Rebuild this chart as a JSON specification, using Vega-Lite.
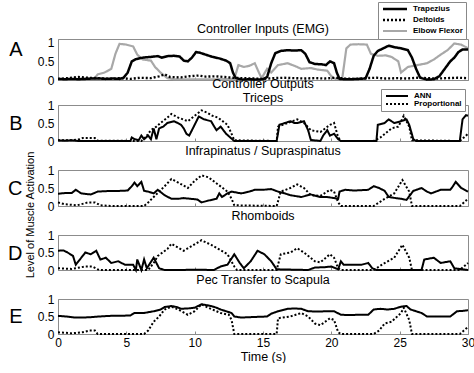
{
"$schema": "https://vega.github.io/schema/vega-lite/v6.json",
"padding": {"left": 7, "top": 1, "right": 0, "bottom": 0},
"bounds": "flush",
"spacing": 25,
"resolve": {"scale": {"color": "independent", "strokeDash": "independent", "strokeWidth": "independent"}},
"title": {"text": "Level of Muscle Activation", "orient": "left", "anchor": "middle", "offset": -29, "fontSize": 11, "dx": -33},
"datasets": {
"A": [
{"t":0,"v":0.02,"s":"Elbow Flexor"},{"t":1,"v":0.02,"s":"Elbow Flexor"},{"t":2,"v":0.03,"s":"Elbow Flexor"},{"t":2.7,"v":0.05,"s":"Elbow Flexor"},{"t":2.9,"v":0.15,"s":"Elbow Flexor"},{"t":3.4,"v":0.2,"s":"Elbow Flexor"},{"t":3.9,"v":0.3,"s":"Elbow Flexor"},{"t":4.2,"v":0.7,"s":"Elbow Flexor"},{"t":4.5,"v":0.97,"s":"Elbow Flexor"},{"t":5,"v":0.95,"s":"Elbow Flexor"},{"t":5.5,"v":0.9,"s":"Elbow Flexor"},{"t":5.8,"v":0.68,"s":"Elbow Flexor"},{"t":6.2,"v":0.55,"s":"Elbow Flexor"},{"t":6.8,"v":0.52,"s":"Elbow Flexor"},{"t":7.1,"v":0.35,"s":"Elbow Flexor"},{"t":7.5,"v":0.2,"s":"Elbow Flexor"},{"t":8,"v":0.05,"s":"Elbow Flexor"},{"t":8.5,"v":0.02,"s":"Elbow Flexor"},{"t":10,"v":0.02,"s":"Elbow Flexor"},{"t":11.5,"v":0.02,"s":"Elbow Flexor"},{"t":12.9,"v":0.03,"s":"Elbow Flexor"},{"t":13.2,"v":0.4,"s":"Elbow Flexor"},{"t":13.6,"v":0.35,"s":"Elbow Flexor"},{"t":14,"v":0.38,"s":"Elbow Flexor"},{"t":14.4,"v":0.45,"s":"Elbow Flexor"},{"t":14.7,"v":0.2,"s":"Elbow Flexor"},{"t":14.9,"v":0.05,"s":"Elbow Flexor"},{"t":15.3,"v":0.3,"s":"Elbow Flexor"},{"t":15.6,"v":0.2,"s":"Elbow Flexor"},{"t":16.1,"v":0.4,"s":"Elbow Flexor"},{"t":16.8,"v":0.45,"s":"Elbow Flexor"},{"t":17.3,"v":0.38,"s":"Elbow Flexor"},{"t":17.8,"v":0.3,"s":"Elbow Flexor"},{"t":18.5,"v":0.32,"s":"Elbow Flexor"},{"t":19,"v":0.28,"s":"Elbow Flexor"},{"t":19.7,"v":0.25,"s":"Elbow Flexor"},{"t":20,"v":0.1,"s":"Elbow Flexor"},{"t":20.3,"v":0.03,"s":"Elbow Flexor"},{"t":20.8,"v":0.05,"s":"Elbow Flexor"},{"t":21.1,"v":0.85,"s":"Elbow Flexor"},{"t":21.4,"v":0.95,"s":"Elbow Flexor"},{"t":22,"v":0.96,"s":"Elbow Flexor"},{"t":22.6,"v":0.95,"s":"Elbow Flexor"},{"t":22.9,"v":0.7,"s":"Elbow Flexor"},{"t":23.4,"v":0.65,"s":"Elbow Flexor"},{"t":24,"v":0.66,"s":"Elbow Flexor"},{"t":24.4,"v":0.62,"s":"Elbow Flexor"},{"t":24.9,"v":0.5,"s":"Elbow Flexor"},{"t":25.1,"v":0.2,"s":"Elbow Flexor"},{"t":25.6,"v":0.35,"s":"Elbow Flexor"},{"t":26.3,"v":0.4,"s":"Elbow Flexor"},{"t":27,"v":0.45,"s":"Elbow Flexor"},{"t":27.5,"v":0.55,"s":"Elbow Flexor"},{"t":28,"v":0.68,"s":"Elbow Flexor"},{"t":28.5,"v":0.8,"s":"Elbow Flexor"},{"t":29,"v":0.98,"s":"Elbow Flexor"},{"t":29.5,"v":0.95,"s":"Elbow Flexor"},{"t":30,"v":0.85,"s":"Elbow Flexor"},
{"t":0,"v":0.03,"s":"Deltoids"},{"t":0.7,"v":0.05,"s":"Deltoids"},{"t":1.5,"v":0.08,"s":"Deltoids"},{"t":2.2,"v":0.06,"s":"Deltoids"},{"t":3,"v":0.05,"s":"Deltoids"},{"t":3.8,"v":0.03,"s":"Deltoids"},{"t":4.5,"v":0.05,"s":"Deltoids"},{"t":5.3,"v":0.03,"s":"Deltoids"},{"t":6,"v":0.06,"s":"Deltoids"},{"t":6.8,"v":0.05,"s":"Deltoids"},{"t":7.4,"v":0.1,"s":"Deltoids"},{"t":7.8,"v":0.15,"s":"Deltoids"},{"t":8.2,"v":0.08,"s":"Deltoids"},{"t":9,"v":0.07,"s":"Deltoids"},{"t":9.6,"v":0.1,"s":"Deltoids"},{"t":10.3,"v":0.12,"s":"Deltoids"},{"t":10.8,"v":0.09,"s":"Deltoids"},{"t":11.5,"v":0.1,"s":"Deltoids"},{"t":12.2,"v":0.08,"s":"Deltoids"},{"t":12.8,"v":0.06,"s":"Deltoids"},{"t":13.5,"v":0.05,"s":"Deltoids"},{"t":14.3,"v":0.04,"s":"Deltoids"},{"t":15,"v":0.03,"s":"Deltoids"},{"t":15.8,"v":0.05,"s":"Deltoids"},{"t":16.5,"v":0.06,"s":"Deltoids"},{"t":17.3,"v":0.05,"s":"Deltoids"},{"t":18,"v":0.04,"s":"Deltoids"},{"t":18.8,"v":0.05,"s":"Deltoids"},{"t":19.5,"v":0.04,"s":"Deltoids"},{"t":20.3,"v":0.06,"s":"Deltoids"},{"t":21,"v":0.04,"s":"Deltoids"},{"t":21.8,"v":0.03,"s":"Deltoids"},{"t":22.5,"v":0.05,"s":"Deltoids"},{"t":23.3,"v":0.06,"s":"Deltoids"},{"t":24,"v":0.04,"s":"Deltoids"},{"t":24.8,"v":0.05,"s":"Deltoids"},{"t":25.5,"v":0.04,"s":"Deltoids"},{"t":26.3,"v":0.06,"s":"Deltoids"},{"t":27,"v":0.05,"s":"Deltoids"},{"t":27.8,"v":0.04,"s":"Deltoids"},{"t":28.5,"v":0.05,"s":"Deltoids"},{"t":29.2,"v":0.06,"s":"Deltoids"},{"t":30,"v":0.05,"s":"Deltoids"},
{"t":0,"v":0.03,"s":"Trapezius"},{"t":0.5,"v":0.02,"s":"Trapezius"},{"t":1,"v":0.03,"s":"Trapezius"},{"t":1.5,"v":0.02,"s":"Trapezius"},{"t":2,"v":0.03,"s":"Trapezius"},{"t":2.5,"v":0.04,"s":"Trapezius"},{"t":3,"v":0.04,"s":"Trapezius"},{"t":3.5,"v":0.03,"s":"Trapezius"},{"t":4,"v":0.04,"s":"Trapezius"},{"t":4.5,"v":0.03,"s":"Trapezius"},{"t":4.8,"v":0.06,"s":"Trapezius"},{"t":5.1,"v":0.2,"s":"Trapezius"},{"t":5.4,"v":0.5,"s":"Trapezius"},{"t":5.7,"v":0.56,"s":"Trapezius"},{"t":6.2,"v":0.6,"s":"Trapezius"},{"t":6.8,"v":0.62,"s":"Trapezius"},{"t":7.3,"v":0.64,"s":"Trapezius"},{"t":7.6,"v":0.6,"s":"Trapezius"},{"t":8,"v":0.64,"s":"Trapezius"},{"t":8.5,"v":0.65,"s":"Trapezius"},{"t":8.9,"v":0.63,"s":"Trapezius"},{"t":9.2,"v":0.52,"s":"Trapezius"},{"t":9.5,"v":0.5,"s":"Trapezius"},{"t":9.8,"v":0.6,"s":"Trapezius"},{"t":10.1,"v":0.75,"s":"Trapezius"},{"t":10.4,"v":0.73,"s":"Trapezius"},{"t":10.8,"v":0.68,"s":"Trapezius"},{"t":11.3,"v":0.62,"s":"Trapezius"},{"t":11.8,"v":0.58,"s":"Trapezius"},{"t":12.3,"v":0.52,"s":"Trapezius"},{"t":12.6,"v":0.45,"s":"Trapezius"},{"t":12.8,"v":0.2,"s":"Trapezius"},{"t":13,"v":0.05,"s":"Trapezius"},{"t":13.5,"v":0.01,"s":"Trapezius"},{"t":14,"v":0.02,"s":"Trapezius"},{"t":14.5,"v":0.01,"s":"Trapezius"},{"t":15,"v":0.02,"s":"Trapezius"},{"t":15.3,"v":0.08,"s":"Trapezius"},{"t":15.6,"v":0.45,"s":"Trapezius"},{"t":15.9,"v":0.72,"s":"Trapezius"},{"t":16.3,"v":0.78,"s":"Trapezius"},{"t":16.8,"v":0.8,"s":"Trapezius"},{"t":17.3,"v":0.79,"s":"Trapezius"},{"t":17.8,"v":0.8,"s":"Trapezius"},{"t":18.1,"v":0.7,"s":"Trapezius"},{"t":18.4,"v":0.48,"s":"Trapezius"},{"t":18.8,"v":0.43,"s":"Trapezius"},{"t":19.3,"v":0.42,"s":"Trapezius"},{"t":19.6,"v":0.4,"s":"Trapezius"},{"t":19.9,"v":0.5,"s":"Trapezius"},{"t":20.2,"v":0.45,"s":"Trapezius"},{"t":20.4,"v":0.2,"s":"Trapezius"},{"t":20.6,"v":0.03,"s":"Trapezius"},{"t":21,"v":0.02,"s":"Trapezius"},{"t":21.5,"v":0.02,"s":"Trapezius"},{"t":22,"v":0.03,"s":"Trapezius"},{"t":22.5,"v":0.04,"s":"Trapezius"},{"t":22.8,"v":0.3,"s":"Trapezius"},{"t":23.1,"v":0.65,"s":"Trapezius"},{"t":23.4,"v":0.78,"s":"Trapezius"},{"t":23.8,"v":0.85,"s":"Trapezius"},{"t":24.2,"v":0.92,"s":"Trapezius"},{"t":24.6,"v":0.88,"s":"Trapezius"},{"t":25.1,"v":0.85,"s":"Trapezius"},{"t":25.6,"v":0.8,"s":"Trapezius"},{"t":25.9,"v":0.6,"s":"Trapezius"},{"t":26.2,"v":0.3,"s":"Trapezius"},{"t":26.5,"v":0.06,"s":"Trapezius"},{"t":27,"v":0.01,"s":"Trapezius"},{"t":27.5,"v":0.02,"s":"Trapezius"},{"t":27.9,"v":0.1,"s":"Trapezius"},{"t":28.3,"v":0.3,"s":"Trapezius"},{"t":28.7,"v":0.5,"s":"Trapezius"},{"t":29,"v":0.6,"s":"Trapezius"},{"t":29.3,"v":0.75,"s":"Trapezius"},{"t":29.6,"v":0.82,"s":"Trapezius"},{"t":30,"v":0.82,"s":"Trapezius"}
],
"B": [
{"t":0,"v":0.02,"s":"ANN"},{"t":0.5,"v":0.01,"s":"ANN"},{"t":1,"v":0.02,"s":"ANN"},{"t":1.5,"v":0,"s":"ANN"},{"t":3.5,"v":0,"s":"ANN"},{"t":5.3,"v":0,"s":"ANN"},{"t":5.4,"v":0.1,"s":"ANN"},{"t":5.6,"v":0.05,"s":"ANN"},{"t":5.9,"v":0.02,"s":"ANN"},{"t":6.1,"v":0.15,"s":"ANN"},{"t":6.3,"v":0.05,"s":"ANN"},{"t":6.6,"v":0.15,"s":"ANN"},{"t":6.8,"v":0.05,"s":"ANN"},{"t":7,"v":0.35,"s":"ANN"},{"t":7.2,"v":0.05,"s":"ANN"},{"t":7.4,"v":0.35,"s":"ANN"},{"t":7.7,"v":0.4,"s":"ANN"},{"t":8,"v":0.5,"s":"ANN"},{"t":8.5,"v":0.55,"s":"ANN"},{"t":9,"v":0.45,"s":"ANN"},{"t":9.2,"v":0.35,"s":"ANN"},{"t":9.4,"v":0.2,"s":"ANN"},{"t":9.6,"v":0.15,"s":"ANN"},{"t":9.8,"v":0.3,"s":"ANN"},{"t":10,"v":0.45,"s":"ANN"},{"t":10.3,"v":0.68,"s":"ANN"},{"t":10.7,"v":0.6,"s":"ANN"},{"t":11.2,"v":0.55,"s":"ANN"},{"t":11.4,"v":0.42,"s":"ANN"},{"t":11.6,"v":0.3,"s":"ANN"},{"t":11.9,"v":0.4,"s":"ANN"},{"t":12.3,"v":0.2,"s":"ANN"},{"t":12.6,"v":0.1,"s":"ANN"},{"t":12.9,"v":0,"s":"ANN"},{"t":16,"v":0,"s":"ANN"},{"t":16.2,"v":0.45,"s":"ANN"},{"t":16.6,"v":0.5,"s":"ANN"},{"t":17,"v":0.55,"s":"ANN"},{"t":17.3,"v":0.5,"s":"ANN"},{"t":17.5,"v":0.5,"s":"ANN"},{"t":18,"v":0.55,"s":"ANN"},{"t":18.3,"v":0.3,"s":"ANN"},{"t":18.5,"v":0.03,"s":"ANN"},{"t":19.2,"v":0,"s":"ANN"},{"t":19.4,"v":0.15,"s":"ANN"},{"t":19.7,"v":0.3,"s":"ANN"},{"t":19.9,"v":0.15,"s":"ANN"},{"t":20.2,"v":0.2,"s":"ANN"},{"t":20.5,"v":0.05,"s":"ANN"},{"t":20.7,"v":0,"s":"ANN"},{"t":23.3,"v":0,"s":"ANN"},{"t":23.4,"v":0.45,"s":"ANN"},{"t":23.9,"v":0.5,"s":"ANN"},{"t":24.2,"v":0.6,"s":"ANN"},{"t":24.6,"v":0.5,"s":"ANN"},{"t":25.1,"v":0.55,"s":"ANN"},{"t":25.5,"v":0.6,"s":"ANN"},{"t":25.7,"v":0.45,"s":"ANN"},{"t":26,"v":0.05,"s":"ANN"},{"t":26.2,"v":0,"s":"ANN"},{"t":29.4,"v":0,"s":"ANN"},{"t":29.6,"v":0.6,"s":"ANN"},{"t":29.85,"v":0.72,"s":"ANN"},{"t":30,"v":0.7,"s":"ANN"},
{"t":0,"v":0.02,"s":"Proportional"},{"t":1,"v":0.02,"s":"Proportional"},{"t":1.6,"v":0.05,"s":"Proportional"},{"t":1.8,"v":0.08,"s":"Proportional"},{"t":2.7,"v":0.08,"s":"Proportional"},{"t":2.9,"v":0.01,"s":"Proportional"},{"t":6.1,"v":0,"s":"Proportional"},{"t":6.5,"v":0.15,"s":"Proportional"},{"t":6.8,"v":0.3,"s":"Proportional"},{"t":7.2,"v":0.4,"s":"Proportional"},{"t":7.5,"v":0.5,"s":"Proportional"},{"t":8,"v":0.65,"s":"Proportional"},{"t":8.3,"v":0.75,"s":"Proportional"},{"t":8.8,"v":0.65,"s":"Proportional"},{"t":9.5,"v":0.55,"s":"Proportional"},{"t":10,"v":0.7,"s":"Proportional"},{"t":10.5,"v":0.85,"s":"Proportional"},{"t":10.95,"v":0.78,"s":"Proportional"},{"t":11.3,"v":0.7,"s":"Proportional"},{"t":11.7,"v":0.65,"s":"Proportional"},{"t":12.4,"v":0.45,"s":"Proportional"},{"t":12.7,"v":0.2,"s":"Proportional"},{"t":12.9,"v":0.02,"s":"Proportional"},{"t":16,"v":0,"s":"Proportional"},{"t":16.1,"v":0.4,"s":"Proportional"},{"t":16.8,"v":0.5,"s":"Proportional"},{"t":17.5,"v":0.6,"s":"Proportional"},{"t":18,"v":0.5,"s":"Proportional"},{"t":18.5,"v":0.3,"s":"Proportional"},{"t":19.2,"v":0.25,"s":"Proportional"},{"t":19.9,"v":0.45,"s":"Proportional"},{"t":20.2,"v":0.5,"s":"Proportional"},{"t":20.5,"v":0.1,"s":"Proportional"},{"t":20.7,"v":0,"s":"Proportional"},{"t":23.1,"v":0,"s":"Proportional"},{"t":23.6,"v":0.1,"s":"Proportional"},{"t":24.4,"v":0.35,"s":"Proportional"},{"t":24.9,"v":0.4,"s":"Proportional"},{"t":25.3,"v":0.7,"s":"Proportional"},{"t":25.7,"v":0.4,"s":"Proportional"},{"t":25.9,"v":0.02,"s":"Proportional"},{"t":29.4,"v":0,"s":"Proportional"},{"t":29.7,"v":0.1,"s":"Proportional"},{"t":30,"v":0.2,"s":"Proportional"}
],
"C": [
{"t":0,"v":0.34,"s":"ANN"},{"t":0.5,"v":0.36,"s":"ANN"},{"t":1,"v":0.36,"s":"ANN"},{"t":1.3,"v":0.45,"s":"ANN"},{"t":1.7,"v":0.35,"s":"ANN"},{"t":2.4,"v":0.32,"s":"ANN"},{"t":2.9,"v":0.4,"s":"ANN"},{"t":3.4,"v":0.41,"s":"ANN"},{"t":3.9,"v":0.42,"s":"ANN"},{"t":4.5,"v":0.42,"s":"ANN"},{"t":5.1,"v":0.43,"s":"ANN"},{"t":5.4,"v":0.55,"s":"ANN"},{"t":5.6,"v":0.65,"s":"ANN"},{"t":5.8,"v":0.55,"s":"ANN"},{"t":6.1,"v":0.67,"s":"ANN"},{"t":6.3,"v":0.42,"s":"ANN"},{"t":6.6,"v":0.4,"s":"ANN"},{"t":7,"v":0.35,"s":"ANN"},{"t":7.3,"v":0.45,"s":"ANN"},{"t":7.8,"v":0.3,"s":"ANN"},{"t":8.3,"v":0.2,"s":"ANN"},{"t":8.8,"v":0.2,"s":"ANN"},{"t":9.2,"v":0.22,"s":"ANN"},{"t":9.7,"v":0.2,"s":"ANN"},{"t":10.2,"v":0.18,"s":"ANN"},{"t":10.5,"v":0.1,"s":"ANN"},{"t":11,"v":0.15,"s":"ANN"},{"t":11.6,"v":0.2,"s":"ANN"},{"t":11.8,"v":0.35,"s":"ANN"},{"t":12,"v":0.25,"s":"ANN"},{"t":12.4,"v":0.35,"s":"ANN"},{"t":12.7,"v":0.4,"s":"ANN"},{"t":13.4,"v":0.35,"s":"ANN"},{"t":14,"v":0.4,"s":"ANN"},{"t":14.4,"v":0.45,"s":"ANN"},{"t":15,"v":0.45,"s":"ANN"},{"t":15.6,"v":0.47,"s":"ANN"},{"t":16.1,"v":0.4,"s":"ANN"},{"t":16.6,"v":0.35,"s":"ANN"},{"t":17,"v":0.3,"s":"ANN"},{"t":17.8,"v":0.25,"s":"ANN"},{"t":18.5,"v":0.32,"s":"ANN"},{"t":19.2,"v":0.25,"s":"ANN"},{"t":19.7,"v":0.25,"s":"ANN"},{"t":20.2,"v":0.22,"s":"ANN"},{"t":20.5,"v":0.2,"s":"ANN"},{"t":20.6,"v":0.4,"s":"ANN"},{"t":21,"v":0.45,"s":"ANN"},{"t":21.7,"v":0.43,"s":"ANN"},{"t":22.2,"v":0.44,"s":"ANN"},{"t":22.7,"v":0.45,"s":"ANN"},{"t":23.1,"v":0.55,"s":"ANN"},{"t":23.5,"v":0.5,"s":"ANN"},{"t":23.9,"v":0.42,"s":"ANN"},{"t":24.2,"v":0.25,"s":"ANN"},{"t":24.7,"v":0.22,"s":"ANN"},{"t":25.1,"v":0.2,"s":"ANN"},{"t":25.5,"v":0.17,"s":"ANN"},{"t":26,"v":0.42,"s":"ANN"},{"t":26.6,"v":0.5,"s":"ANN"},{"t":27,"v":0.4,"s":"ANN"},{"t":27.3,"v":0.35,"s":"ANN"},{"t":28,"v":0.45,"s":"ANN"},{"t":28.7,"v":0.45,"s":"ANN"},{"t":28.9,"v":0.55,"s":"ANN"},{"t":29.1,"v":0.67,"s":"ANN"},{"t":29.5,"v":0.5,"s":"ANN"},{"t":30,"v":0.4,"s":"ANN"},
{"t":0,"v":0.1,"s":"Proportional"},{"t":0.5,"v":0.05,"s":"Proportional"},{"t":1.4,"v":0.02,"s":"Proportional"},{"t":2.2,"v":0.1,"s":"Proportional"},{"t":2.7,"v":0.1,"s":"Proportional"},{"t":3.1,"v":0.02,"s":"Proportional"},{"t":4,"v":0,"s":"Proportional"},{"t":6.3,"v":0,"s":"Proportional"},{"t":6.6,"v":0.1,"s":"Proportional"},{"t":7,"v":0.25,"s":"Proportional"},{"t":7.4,"v":0.4,"s":"Proportional"},{"t":7.8,"v":0.55,"s":"Proportional"},{"t":8.3,"v":0.75,"s":"Proportional"},{"t":8.8,"v":0.65,"s":"Proportional"},{"t":9.5,"v":0.5,"s":"Proportional"},{"t":10,"v":0.7,"s":"Proportional"},{"t":10.5,"v":0.85,"s":"Proportional"},{"t":11,"v":0.8,"s":"Proportional"},{"t":11.7,"v":0.6,"s":"Proportional"},{"t":12.4,"v":0.4,"s":"Proportional"},{"t":12.7,"v":0.2,"s":"Proportional"},{"t":12.9,"v":0.02,"s":"Proportional"},{"t":16,"v":0,"s":"Proportional"},{"t":16.3,"v":0.4,"s":"Proportional"},{"t":17,"v":0.5,"s":"Proportional"},{"t":17.5,"v":0.6,"s":"Proportional"},{"t":18,"v":0.5,"s":"Proportional"},{"t":18.5,"v":0.3,"s":"Proportional"},{"t":19.2,"v":0.28,"s":"Proportional"},{"t":19.9,"v":0.45,"s":"Proportional"},{"t":20.2,"v":0.4,"s":"Proportional"},{"t":20.5,"v":0.1,"s":"Proportional"},{"t":20.7,"v":0,"s":"Proportional"},{"t":23.1,"v":0,"s":"Proportional"},{"t":23.9,"v":0.2,"s":"Proportional"},{"t":24.6,"v":0.35,"s":"Proportional"},{"t":25.2,"v":0.72,"s":"Proportional"},{"t":25.7,"v":0.4,"s":"Proportional"},{"t":25.9,"v":0,"s":"Proportional"},{"t":29.4,"v":0,"s":"Proportional"},{"t":29.7,"v":0.1,"s":"Proportional"},{"t":30,"v":0.2,"s":"Proportional"}
],
"D": [
{"t":0,"v":0.55,"s":"ANN"},{"t":0.4,"v":0.56,"s":"ANN"},{"t":0.7,"v":0.5,"s":"ANN"},{"t":1.1,"v":0.4,"s":"ANN"},{"t":1.3,"v":0.15,"s":"ANN"},{"t":1.7,"v":0.35,"s":"ANN"},{"t":2,"v":0.5,"s":"ANN"},{"t":2.4,"v":0.45,"s":"ANN"},{"t":2.8,"v":0.55,"s":"ANN"},{"t":3.1,"v":0.3,"s":"ANN"},{"t":3.5,"v":0.35,"s":"ANN"},{"t":3.9,"v":0.2,"s":"ANN"},{"t":4.4,"v":0.25,"s":"ANN"},{"t":4.9,"v":0.15,"s":"ANN"},{"t":5.5,"v":0.15,"s":"ANN"},{"t":5.7,"v":0,"s":"ANN"},{"t":5.8,"v":0.3,"s":"ANN"},{"t":6.1,"v":0,"s":"ANN"},{"t":6.3,"v":0.3,"s":"ANN"},{"t":6.5,"v":0.05,"s":"ANN"},{"t":7,"v":0.35,"s":"ANN"},{"t":7.4,"v":0.05,"s":"ANN"},{"t":7.8,"v":0,"s":"ANN"},{"t":9,"v":0,"s":"ANN"},{"t":10,"v":0.01,"s":"ANN"},{"t":11.4,"v":0,"s":"ANN"},{"t":11.9,"v":0.1,"s":"ANN"},{"t":12.4,"v":0.15,"s":"ANN"},{"t":12.9,"v":0.45,"s":"ANN"},{"t":13.3,"v":0.2,"s":"ANN"},{"t":13.6,"v":0.05,"s":"ANN"},{"t":14.1,"v":0.25,"s":"ANN"},{"t":14.6,"v":0.55,"s":"ANN"},{"t":15.1,"v":0.45,"s":"ANN"},{"t":15.6,"v":0.25,"s":"ANN"},{"t":16,"v":0.02,"s":"ANN"},{"t":18.3,"v":0,"s":"ANN"},{"t":18.8,"v":0.07,"s":"ANN"},{"t":19.5,"v":0.08,"s":"ANN"},{"t":20,"v":0.1,"s":"ANN"},{"t":20.5,"v":0.02,"s":"ANN"},{"t":20.7,"v":0.25,"s":"ANN"},{"t":20.9,"v":0.15,"s":"ANN"},{"t":21.7,"v":0.15,"s":"ANN"},{"t":22.2,"v":0.15,"s":"ANN"},{"t":22.7,"v":0.2,"s":"ANN"},{"t":23,"v":0.05,"s":"ANN"},{"t":23.3,"v":0,"s":"ANN"},{"t":26.6,"v":0,"s":"ANN"},{"t":26.8,"v":0.3,"s":"ANN"},{"t":27.5,"v":0.35,"s":"ANN"},{"t":28,"v":0.2,"s":"ANN"},{"t":28.7,"v":0.25,"s":"ANN"},{"t":29,"v":0.05,"s":"ANN"},{"t":30,"v":0,"s":"ANN"},
{"t":0,"v":0.05,"s":"Proportional"},{"t":1,"v":0.03,"s":"Proportional"},{"t":2,"v":0.1,"s":"Proportional"},{"t":2.5,"v":0.1,"s":"Proportional"},{"t":3,"v":0,"s":"Proportional"},{"t":6.6,"v":0,"s":"Proportional"},{"t":7,"v":0.2,"s":"Proportional"},{"t":7.3,"v":0.4,"s":"Proportional"},{"t":8,"v":0.6,"s":"Proportional"},{"t":8.3,"v":0.75,"s":"Proportional"},{"t":9.2,"v":0.55,"s":"Proportional"},{"t":10.5,"v":0.85,"s":"Proportional"},{"t":11.2,"v":0.72,"s":"Proportional"},{"t":12.4,"v":0.45,"s":"Proportional"},{"t":12.9,"v":0.1,"s":"Proportional"},{"t":13.1,"v":0,"s":"Proportional"},{"t":16,"v":0,"s":"Proportional"},{"t":16.3,"v":0.45,"s":"Proportional"},{"t":17,"v":0.5,"s":"Proportional"},{"t":17.5,"v":0.62,"s":"Proportional"},{"t":18,"v":0.5,"s":"Proportional"},{"t":18.8,"v":0.25,"s":"Proportional"},{"t":19.2,"v":0.22,"s":"Proportional"},{"t":19.9,"v":0.45,"s":"Proportional"},{"t":20.2,"v":0.35,"s":"Proportional"},{"t":20.5,"v":0.05,"s":"Proportional"},{"t":20.7,"v":0,"s":"Proportional"},{"t":23.1,"v":0,"s":"Proportional"},{"t":23.9,"v":0.2,"s":"Proportional"},{"t":24.6,"v":0.35,"s":"Proportional"},{"t":25.2,"v":0.72,"s":"Proportional"},{"t":25.7,"v":0.35,"s":"Proportional"},{"t":25.9,"v":0,"s":"Proportional"},{"t":29.4,"v":0,"s":"Proportional"},{"t":29.7,"v":0.1,"s":"Proportional"},{"t":30,"v":0.2,"s":"Proportional"}
],
"E": [
{"t":0,"v":0.52,"s":"ANN"},{"t":0.6,"v":0.5,"s":"ANN"},{"t":1.2,"v":0.47,"s":"ANN"},{"t":1.8,"v":0.47,"s":"ANN"},{"t":2.4,"v":0.48,"s":"ANN"},{"t":3,"v":0.5,"s":"ANN"},{"t":3.9,"v":0.52,"s":"ANN"},{"t":4.6,"v":0.52,"s":"ANN"},{"t":5.3,"v":0.53,"s":"ANN"},{"t":5.6,"v":0.6,"s":"ANN"},{"t":6.3,"v":0.6,"s":"ANN"},{"t":7,"v":0.65,"s":"ANN"},{"t":7.5,"v":0.7,"s":"ANN"},{"t":7.8,"v":0.77,"s":"ANN"},{"t":8.3,"v":0.8,"s":"ANN"},{"t":8.7,"v":0.77,"s":"ANN"},{"t":9,"v":0.72,"s":"ANN"},{"t":9.5,"v":0.73,"s":"ANN"},{"t":10,"v":0.75,"s":"ANN"},{"t":10.5,"v":0.85,"s":"ANN"},{"t":10.8,"v":0.83,"s":"ANN"},{"t":11.2,"v":0.8,"s":"ANN"},{"t":11.6,"v":0.75,"s":"ANN"},{"t":11.9,"v":0.7,"s":"ANN"},{"t":12.3,"v":0.65,"s":"ANN"},{"t":12.7,"v":0.6,"s":"ANN"},{"t":12.9,"v":0.5,"s":"ANN"},{"t":13.4,"v":0.47,"s":"ANN"},{"t":14,"v":0.48,"s":"ANN"},{"t":14.6,"v":0.49,"s":"ANN"},{"t":15.3,"v":0.5,"s":"ANN"},{"t":15.6,"v":0.58,"s":"ANN"},{"t":16.1,"v":0.65,"s":"ANN"},{"t":16.8,"v":0.72,"s":"ANN"},{"t":17.3,"v":0.73,"s":"ANN"},{"t":17.8,"v":0.72,"s":"ANN"},{"t":18.3,"v":0.65,"s":"ANN"},{"t":19,"v":0.64,"s":"ANN"},{"t":19.6,"v":0.65,"s":"ANN"},{"t":20.2,"v":0.65,"s":"ANN"},{"t":20.7,"v":0.55,"s":"ANN"},{"t":21.3,"v":0.54,"s":"ANN"},{"t":22,"v":0.55,"s":"ANN"},{"t":22.7,"v":0.55,"s":"ANN"},{"t":23.1,"v":0.7,"s":"ANN"},{"t":23.6,"v":0.72,"s":"ANN"},{"t":24.1,"v":0.7,"s":"ANN"},{"t":24.6,"v":0.72,"s":"ANN"},{"t":25.1,"v":0.78,"s":"ANN"},{"t":25.5,"v":0.8,"s":"ANN"},{"t":25.8,"v":0.7,"s":"ANN"},{"t":26.2,"v":0.65,"s":"ANN"},{"t":26.6,"v":0.6,"s":"ANN"},{"t":27,"v":0.5,"s":"ANN"},{"t":27.6,"v":0.5,"s":"ANN"},{"t":28.2,"v":0.5,"s":"ANN"},{"t":28.7,"v":0.5,"s":"ANN"},{"t":29.2,"v":0.65,"s":"ANN"},{"t":29.6,"v":0.66,"s":"ANN"},{"t":30,"v":0.68,"s":"ANN"},
{"t":0,"v":0.05,"s":"Proportional"},{"t":1,"v":0.02,"s":"Proportional"},{"t":1.8,"v":0.05,"s":"Proportional"},{"t":2.3,"v":0.1,"s":"Proportional"},{"t":2.7,"v":0.1,"s":"Proportional"},{"t":2.9,"v":0,"s":"Proportional"},{"t":6.3,"v":0,"s":"Proportional"},{"t":6.6,"v":0.1,"s":"Proportional"},{"t":7,"v":0.35,"s":"Proportional"},{"t":7.4,"v":0.5,"s":"Proportional"},{"t":7.8,"v":0.7,"s":"Proportional"},{"t":8.3,"v":0.78,"s":"Proportional"},{"t":8.8,"v":0.7,"s":"Proportional"},{"t":9.5,"v":0.55,"s":"Proportional"},{"t":10,"v":0.65,"s":"Proportional"},{"t":10.5,"v":0.85,"s":"Proportional"},{"t":11,"v":0.75,"s":"Proportional"},{"t":11.9,"v":0.6,"s":"Proportional"},{"t":12.5,"v":0.55,"s":"Proportional"},{"t":12.7,"v":0.4,"s":"Proportional"},{"t":12.9,"v":0,"s":"Proportional"},{"t":16,"v":0,"s":"Proportional"},{"t":16.1,"v":0.45,"s":"Proportional"},{"t":17,"v":0.5,"s":"Proportional"},{"t":17.8,"v":0.6,"s":"Proportional"},{"t":18.3,"v":0.5,"s":"Proportional"},{"t":18.8,"v":0.3,"s":"Proportional"},{"t":19.2,"v":0.25,"s":"Proportional"},{"t":19.9,"v":0.45,"s":"Proportional"},{"t":20.2,"v":0.4,"s":"Proportional"},{"t":20.5,"v":0.05,"s":"Proportional"},{"t":20.7,"v":0,"s":"Proportional"},{"t":23.1,"v":0,"s":"Proportional"},{"t":23.5,"v":0.1,"s":"Proportional"},{"t":23.9,"v":0.3,"s":"Proportional"},{"t":24.4,"v":0.35,"s":"Proportional"},{"t":25.1,"v":0.6,"s":"Proportional"},{"t":25.3,"v":0.75,"s":"Proportional"},{"t":25.7,"v":0.4,"s":"Proportional"},{"t":25.9,"v":0,"s":"Proportional"},{"t":29.4,"v":0,"s":"Proportional"},{"t":29.7,"v":0.1,"s":"Proportional"},{"t":30,"v":0.2,"s":"Proportional"}
]
},
"vconcat": [
{
"width": 410, "height": 41,
"data": {"name": "A"},
"title": {"text": "Controller Inputs (EMG)", "offset": -34},
"mark": {"type": "line", "strokeCap": "butt"},
"encoding": {
"x": {"field": "t", "type": "quantitative", "scale": {"domain": [0, 30]}, "axis": {"labels": false, "title": null, "values": [0,5,10,15,20,25,30], "tickSize": -3}},
"y": {"field": "v", "type": "quantitative", "scale": {"domain": [0, 1.1]}, "axis": {"values": [0, 0.5, 1], "format": "~g", "title": "A", "titleX": -36, "titleY": 10}},
"color": {"field": "s", "type": "nominal", "scale": {"domain": ["Trapezius", "Deltoids", "Elbow Flexor"], "range": ["#000000", "#000000", "#a8a8a8"]}, "legend": {"orient": "none", "legendX": 320, "legendY": -37, "symbolType": "M-1,0L11,0", "symbolSize": 16, "labelOffset": 24, "rowPadding": 1, "padding": 3}},
"strokeDash": {"field": "s", "type": "nominal", "scale": {"domain": ["Trapezius", "Deltoids", "Elbow Flexor"], "range": [[1, 0], [2, 2], [1, 0]]}, "legend": {"orient": "none", "legendX": 320, "legendY": -37, "symbolType": "M-1,0L11,0", "symbolSize": 16, "labelOffset": 24, "rowPadding": 1, "padding": 3}},
"strokeWidth": {"field": "s", "type": "ordinal", "scale": {"domain": ["Trapezius", "Deltoids", "Elbow Flexor"], "range": [2.5, 2.2, 0.8]}, "legend": {"orient": "none", "legendX": 320, "legendY": -37, "symbolType": "M-1,0L11,0", "symbolSize": 16, "labelOffset": 24, "rowPadding": 1, "padding": 3}}
}
},
{
"vconcat": [
{
"width": 410, "height": 36,
"data": {"name": "B"},
"title": {"text": ["Controller Outputs", "Triceps"], "offset": -16, "lineHeight": 14},
"mark": {"type": "line", "color": "black", "strokeWidth": 2, "strokeCap": "butt"},
"encoding": {
"x": {"field": "t", "type": "quantitative", "scale": {"domain": [0, 30]}, "axis": {"labels": false, "title": null, "values": [0,5,10,15,20,25,30], "tickSize": -3}},
"y": {"field": "v", "type": "quantitative", "scale": {"domain": [0, 1]}, "axis": {"values": [0, 0.5, 1], "format": "~g", "title": "B", "titleX": -36, "titleY": 18}},
"strokeDash": {"field": "s", "type": "nominal", "scale": {"domain": ["ANN", "Proportional"], "range": [[1, 0], [2, 2]]}, "legend": {"orient": "none", "legendX": 323, "legendY": -16, "symbolType": "M-1,0L10,0", "symbolSize": 16, "labelOffset": 22, "rowPadding": 0, "padding": 3, "symbolStrokeWidth": 2, "symbolStrokeColor": "black"}}
}
},
{
"width": 410, "height": 36,
"data": {"name": "C"},
"title": {"text": "Infrapinatus / Supraspinatus", "offset": 7},
"mark": {"type": "line", "color": "black", "strokeWidth": 2, "strokeCap": "butt"},
"encoding": {
"x": {"field": "t", "type": "quantitative", "scale": {"domain": [0, 30]}, "axis": {"labels": false, "title": null, "values": [0,5,10,15,20,25,30], "tickSize": -3}},
"y": {"field": "v", "type": "quantitative", "scale": {"domain": [0, 1]}, "axis": {"values": [0, 0.5, 1], "format": "~g", "title": "C", "titleX": -36, "titleY": 18}},
"strokeDash": {"field": "s", "type": "nominal", "scale": {"domain": ["ANN", "Proportional"], "range": [[1, 0], [2, 2]]}, "legend": null}
}
},
{
"width": 410, "height": 35,
"data": {"name": "D"},
"title": {"text": "Rhomboids", "offset": 7},
"mark": {"type": "line", "color": "black", "strokeWidth": 2, "strokeCap": "butt"},
"encoding": {
"x": {"field": "t", "type": "quantitative", "scale": {"domain": [0, 30]}, "axis": {"labels": false, "title": null, "values": [0,5,10,15,20,25,30], "tickSize": -3}},
"y": {"field": "v", "type": "quantitative", "scale": {"domain": [0, 1]}, "axis": {"values": [0, 0.5, 1], "format": "~g", "title": "D", "titleX": -36, "titleY": 18}},
"strokeDash": {"field": "s", "type": "nominal", "scale": {"domain": ["ANN", "Proportional"], "range": [[1, 0], [2, 2]]}, "legend": null}
}
},
{
"width": 410, "height": 35,
"data": {"name": "E"},
"title": {"text": "Pec Transfer to Scapula", "offset": 7},
"mark": {"type": "line", "color": "black", "strokeWidth": 2, "strokeCap": "butt"},
"encoding": {
"x": {"field": "t", "type": "quantitative", "scale": {"domain": [0, 30]}, "axis": {"title": "Time (s)", "values": [0,5,10,15,20,25,30], "tickSize": -3, "labelPadding": 6, "labelFlush": false, "titlePadding": 2, "titleFontSize": 12.5, "titleFontWeight": "normal"}},
"y": {"field": "v", "type": "quantitative", "scale": {"domain": [0, 1]}, "axis": {"values": [0, 0.5, 1], "format": "~g", "title": "E", "titleX": -36, "titleY": 17}},
"strokeDash": {"field": "s", "type": "nominal", "scale": {"domain": ["ANN", "Proportional"], "range": [[1, 0], [2, 2]]}, "legend": null}
}
}
],
"spacing": 29,
"bounds": "flush",
"resolve": {"scale": {"strokeDash": "independent"}}
}
],
"config": {
"font": "Liberation Sans",
"view": {"stroke": "#8c8c8c"},
"axis": {"domainColor": "#8c8c8c", "tickColor": "#8c8c8c", "labelFontSize": 12, "labelColor": "black", "grid": false, "labelFont": "Liberation Sans", "titleFont": "Liberation Sans", "titleColor": "black"},
"axisY": {"ticks": false, "labelPadding": 4, "labelOverlap": false, "titleAngle": 0, "titleFontSize": 20, "titleFontWeight": "normal", "titleAlign": "right", "titleBaseline": "middle"},
"title": {"fontSize": 12.5, "fontWeight": "normal", "color": "black", "font": "Liberation Sans"},
"legend": {"title": null, "labelFontSize": 8, "labelFontWeight": "bold", "labelColor": "black", "strokeColor": "#888888", "fillColor": "white", "padding": 4, "labelFont": "Liberation Sans"}
}
}
